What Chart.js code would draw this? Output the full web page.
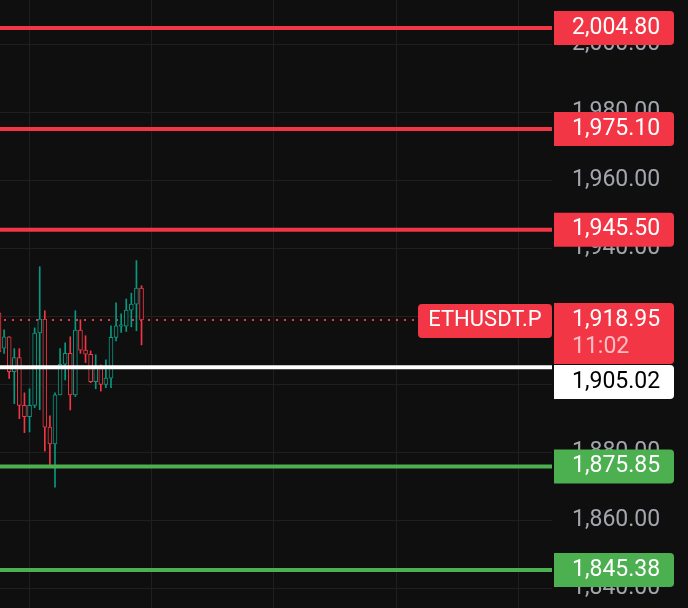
<!DOCTYPE html>
<html>
<head>
<meta charset="utf-8">
<title>ETHUSDT.P</title>
<script src="https://cdn.jsdelivr.net/npm/chart.js@4.4.1/dist/chart.umd.min.js"></script>
<style>
  html, body { margin: 0; padding: 0; background: #0f0f0f; }
  canvas { display: block; }
</style>
</head>
<body>
<canvas id="ethChart" width="688" height="608"></canvas>
<script>
// 5m candles, oldest first (first one is cut by the left edge)
const opens  = [1921.0, 1910.6, 1914.0, 1903.75, 1907.9, 1893.8, 1890.5, 1893.8, 1915.1, 1919.2,
                1887.4, 1882.5, 1896.9, 1905.9, 1909.1, 1896.9, 1915.95, 1910.05, 1908.85, 1900.8,
                1904.9, 1900.0, 1901.8, 1913.8, 1917.1, 1917.1, 1921.8, 1923.6, 1928.3];
const highs  = [1921.2, 1916.0, 1914.0, 1910.5, 1910.5, 1897.5, 1898.7, 1916.6, 1934.6, 1921.65,
                1890.7, 1897.5, 1910.5, 1912.2, 1914.0, 1921.65, 1919.0, 1914.3, 1909.85, 1908.7,
                1905.7, 1907.2, 1917.2, 1924.0, 1920.7, 1925.1, 1926.8, 1936.4, 1929.0];
const lows   = [1906.5, 1909.1, 1901.7, 1894.3, 1889.9, 1885.8, 1886.0, 1893.1, 1892.55, 1880.35,
                1875.9, 1869.75, 1896.9, 1901.3, 1892.45, 1896.4, 1909.1, 1906.4, 1900.5, 1898.7,
                1898.0, 1899.0, 1899.0, 1912.8, 1915.25, 1915.55, 1916.9, 1915.75, 1911.6];
const closes = [1909.5, 1914.0, 1903.75, 1907.9, 1893.8, 1890.5, 1893.8, 1915.1, 1919.2, 1887.4,
                1882.5, 1896.9, 1905.9, 1909.1, 1896.9, 1915.95, 1910.05, 1908.85, 1900.8, 1904.9,
                1900.0, 1901.8, 1913.8, 1917.2, 1917.5, 1921.8, 1923.6, 1928.3, 1918.95];

// horizontal levels
const resistance = [2004.80, 1975.10, 1945.50];
const pivot = [1905.02];
const support = [1875.85, 1845.38];

const symbol = 'ETHUSDT.P';
const lastPrice = 1918.95;
const countdown = '11:02';

// axis ticks
const priceTicks = [1840, 1860, 1880, 1900, 1920, 1940, 1960, 1980, 2000];
const timeGrid = [6, 30, 54, 78, 102];

// visible window
const xMin = 0.196, xMax = 108.64;
const yMin = 1834.21, yMax = 2013.04;

const bg = '#0f0f0f';
const upColor = '#089981';
const downColor = '#f23645';
const gridColor = '#1f1f1f';
const red = '#f23645';
const green = '#4caf50';

Chart.defaults.font.family = 'Roboto';

function fmt(v) {
    return v.toLocaleString('en-US', { minimumFractionDigits: 2, maximumFractionDigits: 2 });
}

const idx = opens.map((o, i) => i);
const candleColors = idx.map(i => closes[i] >= opens[i] ? upColor : downColor);

const wicks = idx.map(i => ({ x: i, y: [lows[i], highs[i]] }));
const bodies = idx.map(i => ({ x: i, y: [Math.min(opens[i], closes[i]), Math.max(opens[i], closes[i])] }));

function levelLine(price, color) {
    return {
        type: 'line',
        data: [{ x: xMin, y: price }, { x: xMax, y: price }],
        borderColor: color,
        borderWidth: 4,
        pointRadius: 0,
        order: 0
    };
}

const levels = [];
resistance.forEach(p => levels.push({ price: p, color: red, text: '#ffffff' }));
pivot.forEach(p => levels.push({ price: p, color: '#ffffff', text: '#000000' }));
support.forEach(p => levels.push({ price: p, color: green, text: '#ffffff' }));

const bgPlugin = {
    id: 'bg',
    beforeDraw(chart) {
        const ctx = chart.ctx;
        ctx.save();
        ctx.fillStyle = bg;
        ctx.fillRect(0, 0, chart.width, chart.height);
        ctx.restore();
    }
};

// price tags on the right scale
const priceTags = {
    id: 'priceTags',
    afterDraw(chart) {
        const ctx = chart.ctx;
        const ys = chart.scales.y;
        const right = chart.chartArea.right;
        const boxX = right + 2, boxW = 120, boxH = 34, textX = right + 20;
        ctx.save();
        ctx.textBaseline = 'middle';

        const tags = levels.map(l => ({ price: l.price, color: l.color, text: l.text, y: ys.getPixelForValue(l.price), h: boxH }));
        const lastY = ys.getPixelForValue(lastPrice);
        tags.push({ price: lastPrice, color: red, text: '#ffffff', y: lastY, h: 61, last: true });
        tags.sort((a, b) => a.y - b.y);

        ctx.font = '23px Roboto';
        let prevBottom = -Infinity;
        tags.forEach(t => {
            let top = t.y - 17;
            if (top < prevBottom + 1) top = prevBottom + 1;
            prevBottom = top + t.h;
            ctx.fillStyle = t.color;
            ctx.beginPath();
            ctx.roundRect(boxX, top, boxW, t.h, [0, 4, 4, 0]);
            ctx.fill();
            ctx.fillStyle = t.text;
            ctx.textAlign = 'left';
            ctx.fillText(fmt(t.price), textX, top + 17);
            if (t.last) {
                ctx.fillStyle = 'rgba(255,255,255,0.68)';
                ctx.fillText(countdown, textX, top + 44);
            }
        });

        // symbol tag left of the scale
        const symW = 134;
        ctx.font = '22px Roboto';
        ctx.fillStyle = red;
        ctx.beginPath();
        ctx.roundRect(right - symW, lastY - 16, symW, 34, 4);
        ctx.fill();
        ctx.fillStyle = '#ffffff';
        ctx.textAlign = 'center';
        ctx.fillText(symbol, right - symW / 2, lastY + 1);
        ctx.restore();
    }
};

new Chart(document.getElementById('ethChart'), {
    type: 'bar',
    data: {
        datasets: [
            ...levels.map(l => levelLine(l.price, l.color)),
            {
                data: bodies,
                backgroundColor: bg,
                borderColor: candleColors,
                borderWidth: 1,
                borderSkipped: false,
                barThickness: 4,
                grouped: false,
                order: 1
            },
            {
                data: wicks,
                backgroundColor: candleColors,
                borderWidth: 0,
                barThickness: 1,
                grouped: false,
                order: 2
            },
            {
                type: 'line',
                data: [{ x: xMin, y: lastPrice }, { x: xMax, y: lastPrice }],
                borderColor: red,
                borderWidth: 2,
                borderDash: [2, 6],
                borderDashOffset: 4,
                pointRadius: 0,
                order: 3
            }
        ]
    },
    options: {
        responsive: false,
        animation: false,
        events: [],
        layout: { padding: 0 },
        plugins: {
            legend: { display: false },
            tooltip: { enabled: false }
        },
        scales: {
            x: {
                type: 'linear',
                min: xMin,
                max: xMax,
                offset: false,
                afterBuildTicks: s => { s.ticks = timeGrid.map(v => ({ value: v })); },
                ticks: { display: false },
                grid: { color: gridColor, drawTicks: false, offset: false },
                border: { display: false }
            },
            y: {
                type: 'linear',
                position: 'right',
                min: yMin,
                max: yMax,
                afterBuildTicks: s => { s.ticks = priceTicks.map(v => ({ value: v })); },
                afterFit: s => {
                    s.width = 136;
                    s.paddingTop = 0;
                    s.paddingBottom = 0;
                },
                ticks: {
                    color: '#a3a6ad',
                    font: { size: 23 },
                    padding: 20,
                    crossAlign: 'near',
                    callback: v => fmt(v)
                },
                grid: { color: gridColor, drawTicks: false },
                border: { display: false }
            }
        }
    },
    plugins: [bgPlugin, priceTags]
});
</script>
</body>
</html>
